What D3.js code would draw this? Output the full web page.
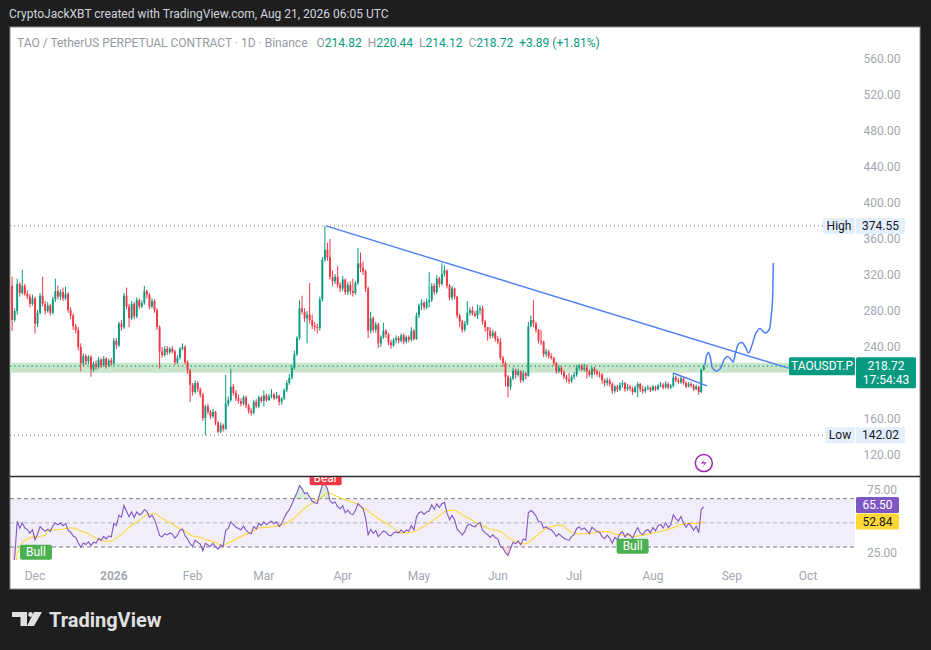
<!DOCTYPE html>
<html>
<head>
<meta charset="utf-8">
<script src="https://cdnjs.cloudflare.com/ajax/libs/d3/7.8.5/d3.min.js"></script>
<style>
  body { margin: 0; background: #1e1e1e; }
  svg { display: block; font-family: Roboto, "Liberation Sans", sans-serif; }
</style>
</head>
<body>
<svg id="chart" width="931" height="650"></svg>
<script>
// ---- data (daily candles, first one on 2025-11-22) ----
const firstDay = Date.UTC(2025, 10, 22);
const firstOpen = 308;
const closes = [
  270,280,310,300,308,299,296,288,294,266,
  278,297,288,280,286,278,293,302,296,301,
  294,299,281,275,263,259,240,222,230,224,
  229,215,221,218,226,220,227,220,225,222,
  247,242,266,262,297,285,272,288,274,292,
  285,289,302,298,285,291,281,262,235,231,
  238,234,238,235,223,228,238,240,223,214,
  198,190,200,193,187,161,174,168,163,168,
  156,146,153,149,177,181,196,189,183,180,
  177,184,175,169,167,179,174,184,180,186,
  181,185,187,183,186,179,183,192,200,206,
  217,232,250,283,279,272,276,270,264,262,
  261,293,337,348,340,318,313,318,309,305,
  315,301,309,302,300,311,333,328,324,305,
  258,272,259,265,244,251,258,254,245,242,
  248,250,247,253,246,251,248,258,249,275,
  286,289,284,290,292,308,301,316,310,321,
  325,308,295,305,296,275,268,259,266,278,
  281,277,275,281,283,268,262,258,252,256,
  249,246,228,222,207,196,205,214,209,213,
  203,211,208,263,270,266,259,247,246,232,
  235,230,228,222,213,217,212,207,204,202,
  207,209,217,219,215,217,213,209,216,213,
  210,209,203,200,203,199,191,196,193,198,
  200,193,196,194,190,195,199,193,191,194,
  195,192,196,193,197,198,195,199,195,197,
  206,203,201,205,200,196,199,197,193,196,
  190,214.82,218.72
];
const highs = [
  318,283,316,312,326,310,303,299,298,296,
  281,300,318,291,290,288,296,316,308,304,
  306,307,301,284,277,266,262,244,233,232,
  231,231,224,225,229,228,230,229,227,228,
  250,250,268,270,300,306,288,291,290,295,
  294,292,308,304,300,294,293,283,264,240,
  241,241,240,241,237,231,240,244,242,225,
  216,200,203,202,195,189,176,177,170,171,
  169,158,156,155,209,185,216,199,192,187,
  183,186,186,177,172,181,182,186,186,192,
  188,188,193,189,190,187,184,194,203,210,
  220,236,252,292,297,283,280,311,276,268,
  266,296,340,374.55,356,360,325,321,330,312,
  319,316,312,313,316,313,350,345,335,326,
  307,279,274,268,267,253,267,260,256,248,
  250,253,252,255,255,253,253,262,260,278,
  288,293,291,294,323,311,311,320,318,333,
  331,326,310,308,306,297,277,270,269,291,
  284,285,280,287,286,286,270,262,262,259,
  258,252,250,230,224,209,207,217,216,216,
  214,214,212,268,275,292,268,260,259,247,
  238,237,233,229,224,220,219,214,209,211,
  209,212,220,221,221,221,220,215,218,218,
  215,213,211,205,206,205,201,198,198,201,
  203,201,199,198,196,197,201,200,197,196,
  198,196,198,197,199,201,200,202,201,199,
  211,208,206,207,206,202,201,201,199,198,
  197,216,220.44
];
const lows = [
  258,268,276,296,298,297,293,284,286,255,
  262,276,285,276,278,275,276,290,293,292,
  291,292,278,271,259,255,236,213,219,220,
  221,207,212,214,216,217,218,216,218,219,
  220,238,240,258,260,282,262,270,271,272,
  282,283,287,294,282,283,278,259,216,228,
  229,231,232,233,220,221,226,236,221,210,
  179,186,188,190,184,158,142.02,165,160,161,
  153,144,144,146,148,174,179,186,180,177,
  174,175,172,166,164,165,172,172,178,174,
  179,180,183,181,182,175,176,181,190,198,
  204,215,230,248,276,268,244,266,260,258,
  255,258,290,335,336,315,308,310,306,301,
  302,298,298,298,296,298,309,323,320,301,
  250,255,256,256,239,240,249,250,242,238,
  240,244,244,245,243,244,245,246,247,248,
  272,281,281,282,284,290,298,299,306,308,
  318,305,292,292,293,272,262,256,257,264,
  275,275,273,271,276,265,257,247,249,250,
  246,243,225,218,196,184,192,203,205,207,
  200,201,204,207,262,262,256,244,242,229,
  229,227,226,219,210,211,209,204,201,199,
  200,204,207,214,213,213,205,207,205,209,
  207,206,199,196,197,196,188,189,190,191,
  195,190,191,191,187,189,184,190,188,189,
  192,190,191,191,192,195,193,194,193,193,
  195,201,199,199,198,194,195,195,191,192,
  187,189,214.12
];

// drawings (day = days after 2025-12-01)
const trendLine = [{ day: 114.4, price: 374.55 }, { day: 296.2, price: 216.5 }];
const flagLine = [{ day: 250.9, price: 211.1 }, { day: 264.25, price: 196.7 }];
const projection = [
  [263.47,220.0],[264.06,230.0],[264.84,233.9],[265.62,227.8],[266.42,216.7],
  [267.79,213.3],[269.37,215.6],[270.94,225.6],[272.12,229.4],[273.30,227.8],
  [274.48,223.3],[275.46,233.3],[276.64,243.3],[278.02,245.0],[279.40,240.0],
  [280.57,233.3],[281.95,242.2],[283.52,255.6],[285.10,260.6],[287.06,255.6],
  [288.64,258.9],[289.42,272.2],[290.01,292.2],[290.21,314.4],[290.33,333.3]
];
const zone = [211.4, 222.6];
const highPrice = 374.55, lowPrice = 142.02, lastPrice = 218.72;
// 200.00 sits under the last-price tag in the reference, so it is left out
const priceTicks = [120,160,240,280,320,360,400,440,480,520,560];
const rsiTicks = [25, 75];
const rsiLevels = [30, 50, 70];
const rsiLast = "65.50", rsiMaLast = "52.84";
const signals = [
  { day: 0.4, level: 33.5, text: "Bull" },
  { day: 114.3, level: 79.5, text: "Bear" },
  { day: 235, level: 38.5, text: "Bull" }
];

// ---- setup ----
const DAY = 864e5;
const dec1 = Date.UTC(2025, 11, 1);
const svg = d3.select("#chart");
const green = "#089981", red = "#f23645", blue = "#4d7ef7";
const axisGrey = "#a3a6af";

const x = d3.scaleUtc()
  .domain([new Date(dec1 - 9.83 * DAY), new Date(dec1 + 322.45 * DAY)])
  .range([10, 855]);
const xDay = (d) => x(new Date(dec1 + d * DAY));
const y = d3.scaleLinear().domain([120, 560]).range([455, 59]);
const yR = d3.scaleLinear().domain([30, 70]).range([547, 498.7]);

const candles = closes.map((c, i) => ({
  date: new Date(firstDay + i * DAY),
  open: i === 0 ? firstOpen : closes[i - 1],
  high: highs[i],
  low: lows[i],
  close: c
}));

// RSI 14 (Wilder) and its 14 SMA
const rsi = [];
let avgG = 0, avgL = 0;
candles.forEach((d, i) => {
  const ch = d.close - d.open;
  const g = Math.max(ch, 0), l = Math.max(-ch, 0);
  if (i < 14) { avgG += (g - avgG) / (i + 1); avgL += (l - avgL) / (i + 1); }
  else { avgG = (avgG * 13 + g) / 14; avgL = (avgL * 13 + l) / 14; }
  rsi.push(avgL === 0 ? 100 : 100 - 100 / (1 + avgG / avgL));
});
const rsiMa = rsi.map((v, i) => d3.mean(rsi.slice(Math.max(0, i - 13), i + 1)));

// ---- frame ----
svg.append("rect").attr("width", 931).attr("height", 650).attr("fill", "#1e1e1e");
svg.append("text").attr("x", 9).attr("y", 18).attr("fill", "#d1d4dc").attr("font-size", 12)
  .text("CryptoJackXBT created with TradingView.com, Aug 21, 2026 06:05 UTC");
svg.append("rect").attr("x", 10).attr("y", 27).attr("width", 910).attr("height", 562)
  .attr("fill", "#fff").attr("stroke", "#8c8c8c").attr("stroke-width", 1);

const defs = svg.append("defs");
defs.append("clipPath").attr("id", "pclip").append("rect")
  .attr("x", 10).attr("y", 27).attr("width", 845).attr("height", 449);
defs.append("clipPath").attr("id", "rclip").append("rect")
  .attr("x", 10).attr("y", 477).attr("width", 845).attr("height", 83);

// ---- price pane ----
const pane = svg.append("g").attr("clip-path", "url(#pclip)");

pane.append("rect").attr("x", 10).attr("width", 845)
  .attr("y", y(zone[1])).attr("height", y(zone[0]) - y(zone[1]))
  .attr("fill", "#c8e6c9");

[highPrice, lowPrice].forEach((p) => {
  pane.append("line").attr("x1", 10).attr("x2", 855).attr("y1", y(p)).attr("y2", y(p))
    .attr("stroke", "#6a6d78").attr("stroke-width", 1).attr("stroke-dasharray", "1 3");
});
pane.append("line").attr("x1", 10).attr("x2", 855).attr("y1", y(lastPrice)).attr("y2", y(lastPrice))
  .attr("stroke", green).attr("stroke-width", 1.3).attr("stroke-dasharray", "1.3 3");

const bw = 1.9;
const cg = pane.append("g");
cg.selectAll("line").data(candles).join("line")
  .attr("x1", (d) => x(d.date)).attr("x2", (d) => x(d.date))
  .attr("y1", (d) => y(Math.max(d.high, d.open, d.close)))
  .attr("y2", (d) => y(Math.min(d.low, d.open, d.close)))
  .attr("stroke", (d) => (d.close >= d.open ? green : red)).attr("stroke-width", 1);
cg.selectAll("rect").data(candles).join("rect")
  .attr("x", (d) => x(d.date) - bw / 2).attr("width", bw)
  .attr("y", (d) => y(Math.max(d.open, d.close)))
  .attr("height", (d) => Math.max(1, Math.abs(y(d.open) - y(d.close))))
  .attr("fill", (d) => (d.close >= d.open ? green : red));

const seg = (pts) => pane.append("line")
  .attr("x1", xDay(pts[0].day)).attr("y1", y(pts[0].price))
  .attr("x2", xDay(pts[1].day)).attr("y2", y(pts[1].price))
  .attr("stroke", blue).attr("stroke-width", 1.4);
seg(trendLine);
seg(flagLine);

pane.append("path").datum(projection)
  .attr("d", d3.line().x((d) => xDay(d[0])).y((d) => y(d[1])).curve(d3.curveCatmullRom.alpha(0.5)))
  .attr("fill", "none").attr("stroke", blue).attr("stroke-width", 1.5);

// lightning marker
const lx = x(candles[candles.length - 1].date), ly = y(111);
pane.append("circle").attr("cx", lx).attr("cy", ly).attr("r", 8.5)
  .attr("fill", "#fff").attr("stroke", "#9c27b0").attr("stroke-width", 1.5);
pane.append("path")
  .attr("d", `M${lx + 2},${ly - 5} L${lx - 3},${ly + 0.5} L${lx + 1},${ly + 0.5} L${lx - 2},${ly + 5} L${lx + 3},${ly - 0.8} L${lx - 1},${ly - 0.8} Z`)
  .attr("fill", "#9c27b0");

// legend
const leg = svg.append("text").attr("x", 17).attr("y", 47).attr("font-size", 12);
leg.append("tspan").attr("fill", "#9598a1").text("TAO / TetherUS PERPETUAL CONTRACT · 1D · Binance ");
[["O", "214.82"], ["H", "220.44"], ["L", "214.12"], ["C", "218.72"]].forEach(([k, v]) => {
  leg.append("tspan").attr("fill", "#9598a1").attr("dx", 6).text(k);
  leg.append("tspan").attr("fill", green).text(v);
});
leg.append("tspan").attr("fill", green).attr("dx", 6).text("+3.89 (+1.81%)");

// price axis
svg.append("g").selectAll("text").data(priceTicks).join("text")
  .attr("x", 882).attr("y", (d) => y(d) + 4).attr("text-anchor", "middle")
  .attr("font-size", 12).attr("fill", axisGrey).text((d) => d.toFixed(2));

const tag = (x0, w, yc, h, fill, txt, col) => {
  svg.append("rect").attr("x", x0).attr("y", yc - h / 2).attr("width", w).attr("height", h)
    .attr("fill", fill).attr("rx", 1.5);
  svg.append("text").attr("x", x0 + w / 2).attr("y", yc + 4.2).attr("text-anchor", "middle")
    .attr("font-size", 12).attr("fill", col).text(txt);
};
tag(823, 32, y(highPrice), 16, "#e3effd", "High", "#131722");
tag(856, 49, y(highPrice), 16, "#e3effd", highPrice.toFixed(2), "#131722");
tag(825, 30, y(lowPrice), 16, "#e3effd", "Low", "#131722");
tag(856, 49, y(lowPrice), 16, "#e3effd", lowPrice.toFixed(2), "#131722");

const ty = y(lastPrice);
tag(789, 66, ty, 18, green, "TAOUSDT.P", "#fff");
svg.append("rect").attr("x", 856).attr("y", ty - 9).attr("width", 60).attr("height", 31)
  .attr("fill", green).attr("rx", 1.5);
svg.append("text").attr("x", 886).attr("y", ty + 4).attr("text-anchor", "middle")
  .attr("font-size", 12).attr("fill", "#fff").text(lastPrice.toFixed(2));
svg.append("text").attr("x", 886).attr("y", ty + 18).attr("text-anchor", "middle")
  .attr("font-size", 12).attr("fill", "#fff").text("17:54:43");

// pane separator
svg.append("line").attr("x1", 10).attr("x2", 920).attr("y1", 476.5).attr("y2", 476.5)
  .attr("stroke", "#2a2a2a").attr("stroke-width", 1.5);

// ---- RSI pane ----
const rp = svg.append("g").attr("clip-path", "url(#rclip)");
rp.append("rect").attr("x", 10).attr("width", 845).attr("y", yR(70)).attr("height", yR(30) - yR(70))
  .attr("fill", "rgba(126,87,194,0.1)");
rp.selectAll("line.lvl").data(rsiLevels).join("line").attr("class", "lvl")
  .attr("x1", 10).attr("x2", 855).attr("y1", (d) => yR(d)).attr("y2", (d) => yR(d))
  .attr("stroke", (d) => (d === 50 ? "#b2b5be" : "#787b86")).attr("stroke-width", 1)
  .attr("stroke-dasharray", "4 3");

rp.append("path").datum(candles)
  .attr("d", d3.area().x((d) => x(d.date)).y0(yR(70))
    .y1((d, i) => yR(Math.max(70, rsi[i]))))
  .attr("fill", "rgba(76,175,80,0.22)");
rp.append("path").datum(candles)
  .attr("d", d3.area().x((d) => x(d.date)).y0(yR(30))
    .y1((d, i) => yR(Math.min(30, rsi[i]))))
  .attr("fill", "rgba(242,54,69,0.18)");

rp.append("path").datum(candles)
  .attr("d", d3.line().x((d) => x(d.date)).y((d, i) => yR(rsiMa[i])))
  .attr("fill", "none").attr("stroke", "#fdd835").attr("stroke-width", 1.1);
rp.append("path").datum(candles)
  .attr("d", d3.line().x((d) => x(d.date)).y((d, i) => yR(rsi[i])))
  .attr("fill", "none").attr("stroke", "#7e57c2").attr("stroke-width", 1.1);

signals.forEach((s) => {
  const sx = xDay(s.day), sy = yR(s.level);
  const bull = s.text === "Bull";
  const top = bull ? sy + 2 : sy - 17;
  rp.append("rect").attr("x", sx - 16).attr("y", top).attr("width", 32).attr("height", 15)
    .attr("rx", 2).attr("fill", bull ? "#4caf50" : red);
  rp.append("text").attr("x", sx).attr("y", top + 11.5).attr("text-anchor", "middle")
    .attr("font-size", 12).attr("fill", "#fff").text(s.text);
});

svg.append("g").selectAll("text").data(rsiTicks).join("text")
  .attr("x", 882).attr("y", (d) => yR(d) + (d === 75 ? 1.5 : 4)).attr("text-anchor", "middle")
  .attr("font-size", 12).attr("fill", axisGrey).text((d) => d.toFixed(2));
tag(856, 43, 505, 16, "#7e57c2", rsiLast, "#fff");
tag(856, 43, 521.5, 16, "#fdd835", rsiMaLast, "#131722");

// ---- time axis ----
const months = d3.utcMonths(new Date(dec1), new Date(Date.UTC(2026, 9, 2)));
svg.append("g").selectAll("text").data(months).join("text")
  .attr("x", (d) => x(d)).attr("y", 580).attr("text-anchor", "middle")
  .attr("font-size", 12).attr("fill", axisGrey)
  .attr("font-weight", (d) => (d.getUTCMonth() === 0 ? 700 : 400))
  .text((d) => (d.getUTCMonth() === 0 ? d3.utcFormat("%Y")(d) : d3.utcFormat("%b")(d)));

// ---- TradingView logo ----
const logo = svg.append("g").attr("fill", "#e0e0e0");
logo.append("path").attr("d", "M12,612 H27 V626 H20.5 V617 H12 Z");
logo.append("circle").attr("cx", 30.5).attr("cy", 614.5).attr("r", 2.4);
logo.append("path").attr("d", "M34,612 H42 L34,626 H27 Z");
svg.append("text").attr("x", 49).attr("y", 627).attr("font-size", 20).attr("font-weight", 700)
  .attr("fill", "#e0e0e0").text("TradingView");
</script>
</body>
</html>
